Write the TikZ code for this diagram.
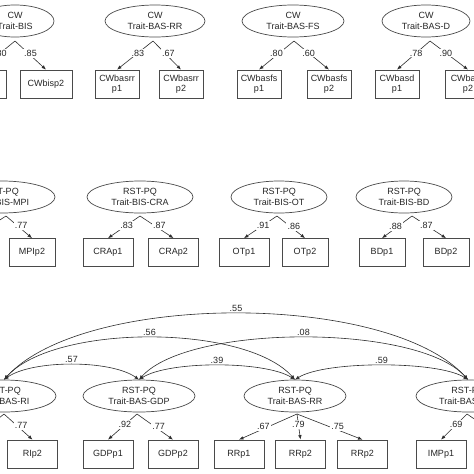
\documentclass[tikz,border=0pt]{standalone}
\usepackage{fontspec}
\setmainfont{Liberation Sans}
\usetikzlibrary{shapes.geometric,arrows.meta}
\definecolor{ln}{HTML}{2E2E2E}
\definecolor{bx}{HTML}{4A4A4A}
\definecolor{tx}{HTML}{262626}
\begin{document}
\begin{tikzpicture}[x=1pt,y=-1pt,
 font=\fontsize{9}{10.5}\selectfont,
 lat/.style={ellipse, draw=bx, line width=0.7pt, minimum height=32pt, inner sep=0pt, align=center, text=tx},
 obs/.style={rectangle, draw=bx, line width=0.7pt, minimum height=28pt, minimum width=50pt, inner sep=0pt, align=center, text=tx},
 obstwo/.style={obs, minimum width=44pt},
 load/.style={draw=ln, line width=0.6pt, -{Latex[length=4.5pt,width=3.5pt]}},
 lab/.style={fill=white, inner sep=1.2pt, text=tx, pos=0.42},
 cov/.style={draw=ln, line width=0.6pt, {Latex[length=4.5pt,width=3.5pt]}-{Latex[length=4.5pt,width=3.5pt]}},
 clab/.style={midway, above, inner sep=2pt, text=tx}
]
\useasboundingbox (0,0) rectangle (474,474);
\fill[white] (0,0) rectangle (474,474);
\clip (0,0) rectangle (474,474);

% ---------- top row ----------
\node[lat, minimum width=78pt] (bis) at (15,21) {CW\\Trait-BIS};
\coordinate (abis) at (15,41);
\node[obs, minimum width=52pt] (bis1) at (-20,84) {CWbisp1};
\node[obs, minimum width=52pt] (bis2) at (46,84) {CWbisp2};
\draw[load] (abis) -- node[lab]{.80} (bis1.north);
\draw[load] (abis) -- node[lab, pos=0.5, yshift=2pt]{.85} (bis2.north);

\node[lat, minimum width=100pt] (rr) at (155,21) {CW\\Trait-BAS-RR};
\coordinate (arr) at (153,41);
\node[obstwo] (rr1) at (117,84) {CWbasrr\\p1};
\node[obstwo] (rr2) at (181,84) {CWbasrr\\p2};
\draw[load] (arr) -- node[lab]{.83} (rr1.north);
\draw[load] (arr) -- node[lab, pos=0.55, yshift=3pt]{.67} (rr2.north);

\node[lat, minimum width=102pt] (fs) at (293,21) {CW\\Trait-BAS-FS};
\coordinate (afs) at (294,41);
\node[obstwo] (fs1) at (259,84) {CWbasfs\\p1};
\node[obstwo] (fs2) at (329,84) {CWbasfs\\p2};
\draw[load] (afs) -- node[lab, pos=0.5, yshift=2pt]{.80} (fs1.north);
\draw[load] (afs) -- node[lab]{.60} (fs2.north);

\node[lat, minimum width=88pt] (d) at (426,21) {CW\\Trait-BAS-D};
\coordinate (ad) at (430,41);
\node[obstwo] (d1) at (397,84) {CWbasd\\p1};
\node[obstwo, minimum width=46pt] (d2) at (468,84) {CWbasd\\p2};
\draw[load] (ad) -- node[lab]{.78} (d1.north);
\draw[load] (ad) -- node[lab]{.90} (d2.north);

% ---------- middle row ----------
\node[lat, minimum width=106pt] (mpi) at (2,197) {RST-PQ\\Trait-BIS-MPI};
\coordinate (ampi) at (6,216);
\coordinate (mpi1) at (-28,238);
\node[obs, minimum width=46pt] (mpi2) at (32,252.5) {MPIp2};
\draw[load] (ampi) -- (mpi1);
\draw[load] (ampi) -- node[lab, pos=0.58, yshift=3pt]{.77} (mpi2.north);

\node[lat, minimum width=106pt] (cra) at (140,197) {RST-PQ\\Trait-BIS-CRA};
\coordinate (acra) at (140,216);
\node[obs] (cra1) at (108,252.5) {CRAp1};
\node[obs] (cra2) at (173.5,252.5) {CRAp2};
\draw[load] (acra) -- node[lab]{.83} (cra1.north);
\draw[load] (acra) -- node[lab, pos=0.58, yshift=3pt]{.87} (cra2.north);

\node[lat, minimum width=96pt] (ot) at (279,197) {RST-PQ\\Trait-BIS-OT};
\coordinate (aot) at (277,216);
\node[obs] (ot1) at (244,252.5) {OTp1};
\node[obs, minimum width=46pt] (ot2) at (305,252.5) {OTp2};
\draw[load] (aot) -- node[lab]{.91} (ot1.north);
\draw[load] (aot) -- node[lab, pos=0.6, yshift=3pt]{.86} (ot2.north);

\node[lat, minimum width=96pt] (bd) at (404,197) {RST-PQ\\Trait-BIS-BD};
\coordinate (abd) at (412,216);
\node[obs, minimum width=46pt] (bd1) at (382,252.5) {BDp1};
\node[obs, minimum width=46pt] (bd2) at (446,252.5) {BDp2};
\draw[load] (abd) -- node[lab, pos=0.55, yshift=2pt]{.88} (bd1.north);
\draw[load] (abd) -- node[lab]{.87} (bd2.north);

% ---------- bottom row ----------
\node[lat, minimum width=104pt] (ri) at (4,396) {RST-PQ\\Trait-BAS-RI};
\coordinate (ari) at (4,414);
\coordinate (ri1) at (-28,440);
\node[obs] (ri2) at (32.5,454) {RIp2};
\draw[load] (ari) -- (ri1);
\draw[load] (ari) -- node[lab, pos=0.6, yshift=4pt]{.77} (ri2.north);

\node[lat, minimum width=112pt] (gdp) at (139,396) {RST-PQ\\Trait-BAS-GDP};
\coordinate (agdp) at (137,414);
\node[obs] (gdp1) at (108,454) {GDPp1};
\node[obs] (gdp2) at (173,454) {GDPp2};
\draw[load] (agdp) -- node[lab]{.92} (gdp1.north);
\draw[load] (agdp) -- node[lab, pos=0.6, yshift=3pt]{.77} (gdp2.north);

\node[lat, minimum width=102pt] (brr) at (295,396) {RST-PQ\\Trait-BAS-RR};
\coordinate (abrr) at (297,414);
\node[obs] (brr1) at (239,454) {RRp1};
\node[obs] (brr2) at (300.5,454) {RRp2};
\node[obs] (brr3) at (362.5,454) {RRp2};
\draw[load] (abrr) -- node[lab, pos=0.58, yshift=2pt]{.67} (brr1.north);
\draw[load] (abrr) -- node[lab]{.79} (brr2.north);
\draw[load] (abrr) -- node[lab, pos=0.62, yshift=3pt]{.75} (brr3.north);

\node[lat, minimum width=104pt] (imp) at (468,396) {RST-PQ\\Trait-BAS-IMP};
\coordinate (aimp) at (467,414);
\node[obs] (imp1) at (441,454) {IMPp1};
\coordinate (imp2) at (505,440);
\draw[load] (aimp) -- node[lab]{.69} (imp1.north);
\draw[load] (aimp) -- (imp2);

% ---------- covariances ----------
\draw[cov] (ri.north) .. controls +(28,-20) and +(-28,-20) .. node[clab]{.57} (gdp.north);
\draw[cov] (gdp.north) .. controls +(30,-19) and +(-30,-19) .. node[clab]{.39} (brr.north);
\draw[cov] (brr.north) .. controls +(30,-19) and +(-30,-19) .. node[clab]{.59} (imp.north);
\draw[cov] (ri.north) .. controls +(50,-56) and +(-50,-56) .. node[clab]{.56} (brr.north);
\draw[cov] (gdp.north) .. controls +(50,-56) and +(-50,-56) .. node[clab]{.08} (imp.north);
\draw[cov] (ri.north) .. controls +(80,-88) and +(-80,-88) .. node[clab]{.55} (imp.north);
\end{tikzpicture}
\end{document}
